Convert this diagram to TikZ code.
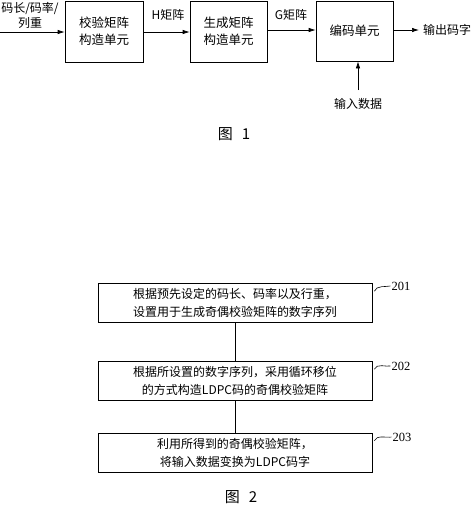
\documentclass[tikz,border=0pt]{standalone}
\usepackage{fontspec}
\setmainfont{Liberation Serif}
\newfontfamily\cjk{Noto Sans CJK SC}
\usetikzlibrary{arrows.meta,positioning}
\tikzset{
  unit/.style={draw,line width=0.7pt,align=center,font=\cjk\fontsize{12.5}{17}\selectfont,inner sep=0pt},
  stepbox/.style={draw,line width=0.7pt,minimum width=274pt,minimum height=39pt,align=center,font=\cjk\fontsize{12}{18}\selectfont,inner sep=0pt},
  arr/.style={-{Latex[length=7pt,width=4.5pt]},line width=0.7pt},
  lbl/.style={font=\cjk\fontsize{12}{15}\selectfont,inner sep=1pt},
  num/.style={font=\fontsize{12.5}{14}\selectfont,inner sep=1pt},
  figlbl/.style={font=\cjk\fontsize{15}{18}\selectfont},
}
\begin{document}
\begin{tikzpicture}[x=1pt,y=-1pt]
  \useasboundingbox (0,0) rectangle (474,507);
  % 图 1: 编码装置
  \node[unit,minimum width=78pt,minimum height=61pt] (check) at (104,31.5) {校验矩阵\\构造单元};
  \node[unit,minimum width=77pt,minimum height=61pt] (gen) at (228.5,31.5) {生成矩阵\\构造单元};
  \node[unit,minimum width=77pt,minimum height=60pt] (enc) at (354.5,31) {编码单元};
  \coordinate (in) at (0,32);
  \coordinate (out) at (419,30);
  \coordinate (data) at (358,90);
  \node[lbl,align=center] (param) at (30,15) {码长/码率/\\列重};
  \node[lbl] (hm) at (168,15) {H矩阵};
  \node[lbl] (gm) at (291,15) {G矩阵};
  \node[lbl,anchor=west] (cw) at (422,30) {输出码字};
  \node[lbl] (ind) at (358,104) {输入数据};
  \draw[arr] (in) -- (check.west|-in);
  \draw[arr] (check.east|-in) -- (gen.west|-in);
  \draw[arr] (gen.east|-out) -- (enc.west|-out);
  \draw[arr] (enc.east|-out) -- (out);
  \draw[arr] (data) -- (enc.south-|data);
  \node[figlbl] (fig1) at (234,134) {图\hspace{0.6em}1};
  % 图 2: 流程
  \node[stepbox] (s201) at (235,303) {根据预先设定的码长、码率以及行重，\\设置用于生成奇偶校验矩阵的数字序列};
  \node[stepbox] (s202) at (235,381) {根据所设置的数字序列，采用循环移位\\的方式构造LDPC码的奇偶校验矩阵};
  \node[stepbox] (s203) at (235,452.5) {利用所得到的奇偶校验矩阵，\\将输入数据变换为LDPC码字};
  \draw[line width=0.7pt] (s201) -- (s202);
  \draw[line width=0.7pt] (s202) -- (s203);
  \node[num] (n201) at (401,286) {201};
  \node[num] (n202) at (401,366) {202};
  \node[num] (n203) at (402,437) {203};
  \foreach \s in {201,202,203}
    \draw[line width=0.6pt] ([xshift=2pt,yshift=-8pt]s\s.north east) .. controls +(2,-6) and +(-4,1) .. (n\s.west);
  \node[figlbl] (fig2) at (241,497) {图\hspace{0.6em}2};
\end{tikzpicture}
\end{document}
